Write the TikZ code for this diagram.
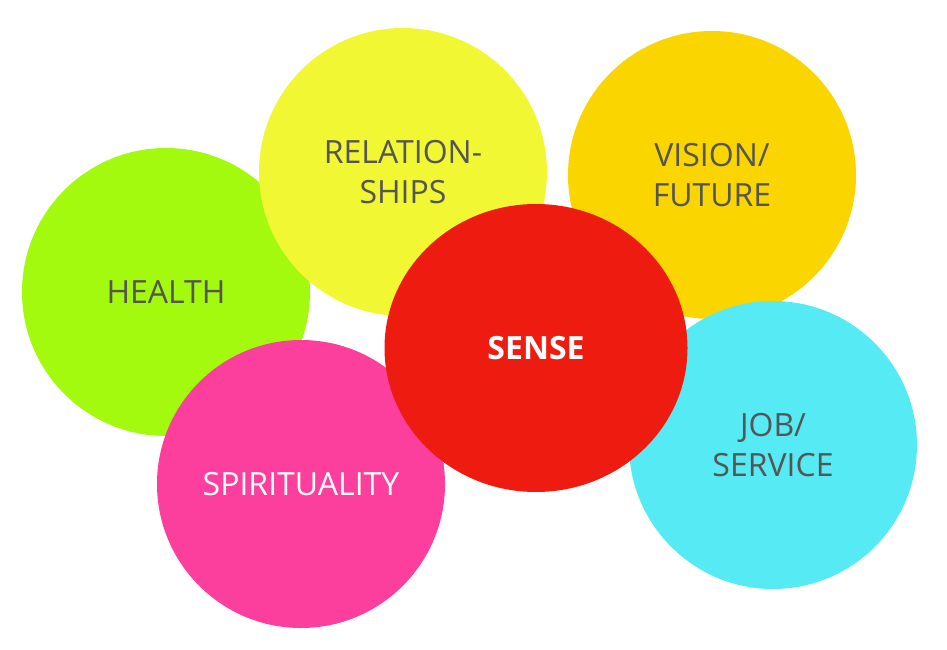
\documentclass[tikz,border=0pt]{standalone}
\usepackage{fontspec}
\setmainfont{Open Sans}
\usetikzlibrary{positioning,shapes.geometric}
\definecolor{txtgrey}{HTML}{555555}
\definecolor{cgreen}{HTML}{A3FA0E}
\definecolor{cyellow}{HTML}{F2F734}
\definecolor{corange}{HTML}{FBD500}
\definecolor{ccyan}{HTML}{56EAF4}
\definecolor{cpink}{HTML}{FC3E9D}
\definecolor{cred}{HTML}{EE1B10}
\begin{document}
\begin{tikzpicture}[x=1pt,y=-1pt]
\tikzset{bubble/.style={circle,minimum size=288pt,inner sep=0pt,align=center,text=txtgrey,font=\fontsize{32}{40}\selectfont}}
\useasboundingbox (0,0) rectangle (947,650);
\node [bubble,fill=cgreen] (health) at (166,292) {HEALTH};
\node [bubble,fill=cyellow] (relation) at (403,172) {RELATION-\\SHIPS};
\node [bubble,fill=corange] (vision) at (712,175) {VISION/\\FUTURE};
\node [bubble,fill=ccyan] (job) at (773,445) {JOB/\\SERVICE};
\node [bubble,fill=cpink,text=white] (spirit) at (301,484) {SPIRITUALITY};
\node [bubble,ellipse,minimum width=303pt,minimum height=288pt,fill=cred,text=white,font=\fontsize{32}{40}\selectfont\bfseries] (sense) at (536,348) {SENSE};
\end{tikzpicture}
\end{document}
